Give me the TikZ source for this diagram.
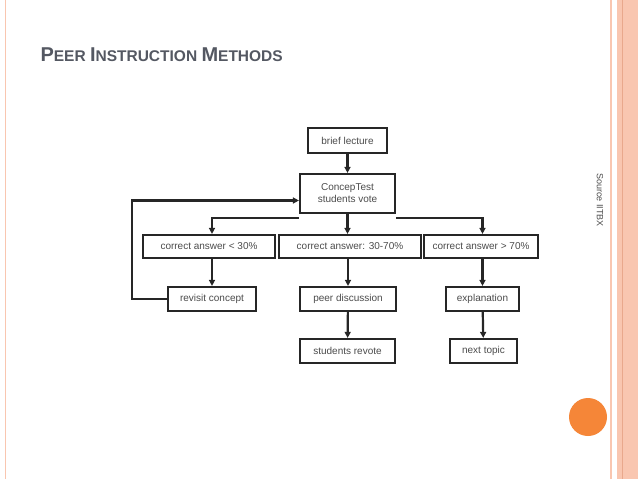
\documentclass[tikz,border=0pt]{standalone}
\usepackage{fontspec}
\setmainfont{Liberation Sans}
\usetikzlibrary{arrows.meta}
\definecolor{ttl}{HTML}{545862}
\definecolor{peach}{HTML}{F9C6B0}
\definecolor{peachd}{HTML}{E9A88C}
\definecolor{org}{HTML}{F58638}
\begin{document}
\begin{tikzpicture}[x=1pt,y=-1pt,
  bx/.style={draw=black!85,line width=2.2pt,inner sep=0pt,font=\fontsize{10}{12}\selectfont,text=black!70,align=center},
  ar/.style={line width=2.2pt,draw=black!85,-{Triangle[length=6pt,width=6pt]}}]
\useasboundingbox (0,0) rectangle (638,479);
\fill[white] (0,0) rectangle (638,479);
\draw[peach,line width=1pt] (5,0) -- (5,479);
\draw[peach,line width=2pt] (611,0) -- (611,479);
\fill[peach] (617,0) rectangle (638,479);
\draw[peachd,line width=0.7pt] (622,0) -- (622,479);
\node[anchor=west,text=ttl,font=\bfseries] (t) at (37,55) {{\fontsize{20}{22}\selectfont P}{\fontsize{15.5}{17}\selectfont EER }{\fontsize{20}{22}\selectfont I}{\fontsize{15.5}{17}\selectfont NSTRUCTION }{\fontsize{20}{22}\selectfont M}{\fontsize{15.5}{17}\selectfont ETHODS}};
\node[rotate=-90,text=black!70,font=\fontsize{9}{10}\selectfont] (src) at (600,200) {Source IITBX};
\fill[org] (588,417) circle (19);
\node[bx,minimum width=79,minimum height=25] (bl) at (347.5,140.5) {brief lecture};
\node[bx,minimum width=95,minimum height=39] (ct) at (347.5,193.5) {ConcepTest\\students vote};
\node[bx,minimum width=132,minimum height=23] (a1) at (209,246.5) {correct answer < 30\%};
\node[bx,minimum width=142,minimum height=23] (a2) at (350,246.5) {correct answer: 30-70\%};
\node[bx,minimum width=114,minimum height=23] (a3) at (481,246.5) {correct answer > 70\%};
\node[bx,minimum width=88,minimum height=24] (rv) at (212,299) {revisit concept};
\node[bx,minimum width=96,minimum height=24] (pd) at (348,299) {peer discussion};
\node[bx,minimum width=73,minimum height=24] (ex) at (482.5,299) {explanation};
\node[bx,minimum width=95,minimum height=24] (sr) at (347.5,351) {students revote};
\node[bx,minimum width=67,minimum height=24] (nt) at (483.5,351) {next topic};
\draw[ar] (bl) -- (ct);
\draw[ar] (ct.south) -- (ct.south |- a2.north);
\draw[ar] ([yshift=-3.5]ct.south west) -| (a1.north -| rv);
\draw[ar] ([yshift=-3.5]ct.south east) -| (a3.north -| ex);
\draw[ar] (a1.south -| rv) -- (rv);
\draw[ar] (a2.south -| pd) -- (pd);
\draw[ar] (a3.south -| ex) -- (ex);
\draw[ar] (pd) -- (sr);
\draw[ar] (ex) -- (nt);
\draw[ar] (rv.west) -- ++(-35,0) |- ([yshift=-7]ct.west);
\end{tikzpicture}
\end{document}
